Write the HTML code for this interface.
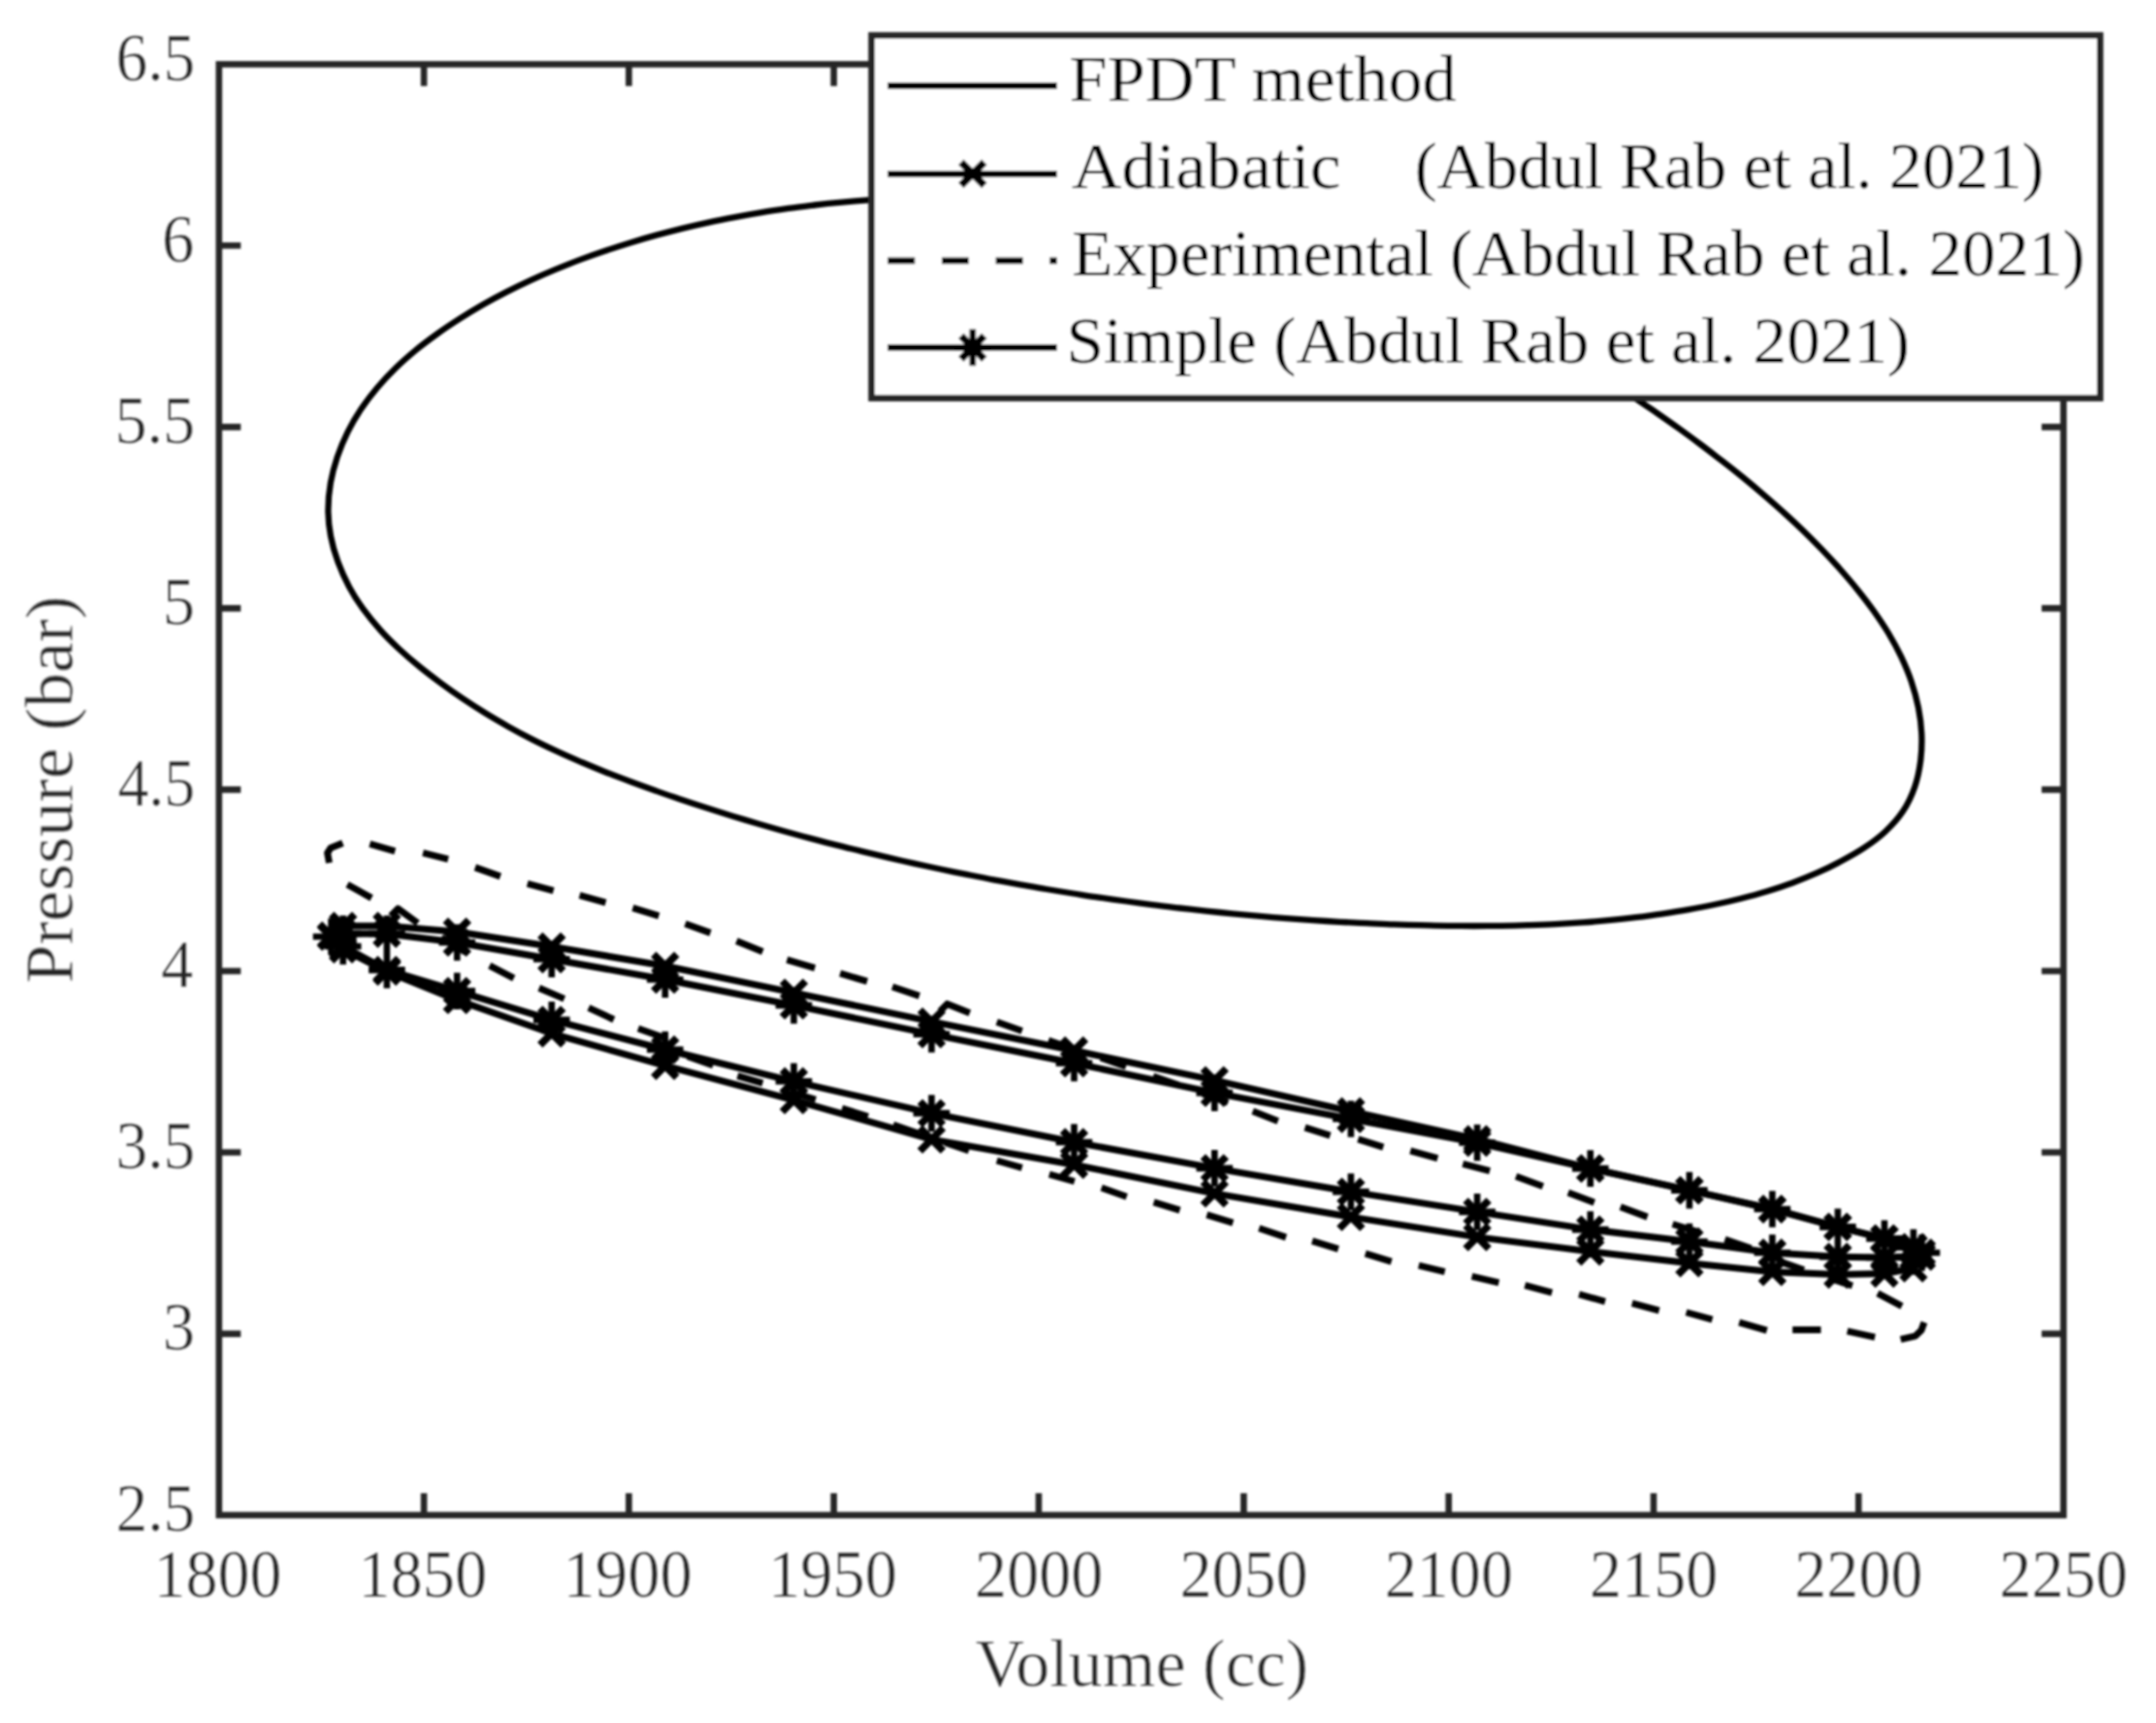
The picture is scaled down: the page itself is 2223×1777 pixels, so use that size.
<!DOCTYPE html>
<html lang="en"><head><meta charset="utf-8"><title>P-V diagram</title>
<style>html,body{margin:0;padding:0;background:#fff;overflow:hidden}svg{display:block}text{font-family:"Liberation Serif",serif;fill:#262626}text.a{stroke:#fff;stroke-width:0.5px}text.l{fill:#000}</style>
</head><body>
<svg width="2223" height="1777" viewBox="0 0 2223 1777">
<rect width="2223" height="1777" fill="#fff"/>
<defs><filter id="soft" x="0" y="0" width="2223" height="1777" filterUnits="userSpaceOnUse"><feGaussianBlur stdDeviation="0.90"/></filter></defs>
<g filter="url(#soft)">
<g fill="none" stroke="#000" stroke-width="6.3" stroke-linejoin="round">
<path d="M894.9 206.4 C885.7 207.1 877.0 207.8 867.8 208.6 C858.6 209.4 848.9 210.4 839.8 211.5 C830.6 212.6 822.0 213.6 812.9 214.9 C803.8 216.2 794.2 217.6 785.1 219.1 C776.0 220.6 767.5 222.1 758.4 223.8 C749.3 225.5 739.9 227.3 730.8 229.3 C721.6 231.3 712.4 233.4 703.5 235.6 C694.6 237.8 686.1 240.0 677.2 242.4 C668.3 244.8 659.1 247.5 650.3 250.2 C641.5 252.9 633.2 255.6 624.5 258.5 C615.8 261.4 606.6 264.7 598.0 267.9 C589.4 271.1 581.3 274.4 572.8 277.9 C564.3 281.4 555.5 285.2 547.0 289.1 C538.5 293.0 529.9 297.2 521.7 301.4 C513.5 305.6 505.8 309.7 497.8 314.3 C489.8 318.9 481.5 323.9 473.7 328.9 C465.9 333.9 458.6 338.7 451.1 344.1 C443.6 349.5 435.8 355.2 428.7 361.1 C421.6 367.0 414.9 372.8 408.3 379.2 C401.7 385.6 395.1 392.6 389.1 399.7 C383.1 406.8 377.3 414.4 372.2 422.0 C367.1 429.6 362.7 437.1 358.6 445.3 C354.5 453.5 350.8 462.5 347.8 471.2 C344.9 479.9 342.5 488.6 340.9 497.7 C339.3 506.8 338.4 516.8 338.4 526.0 C338.4 535.2 339.3 543.8 341.0 552.8 C342.7 561.8 345.3 571.0 348.5 579.7 C351.7 588.4 355.7 597.1 360.0 605.2 C364.3 613.3 369.1 620.7 374.5 628.1 C379.9 635.5 386.1 643.0 392.2 649.9 C398.3 656.8 404.6 662.9 411.4 669.2 C418.2 675.5 425.6 681.9 432.8 687.8 C440.0 693.7 447.1 699.0 454.5 704.5 C461.9 710.0 469.7 715.5 477.4 720.7 C485.1 725.9 493.1 731.0 500.9 735.8 C508.7 740.6 516.2 744.9 524.2 749.4 C532.2 753.9 540.7 758.4 548.9 762.6 C557.1 766.8 564.9 770.5 573.3 774.4 C581.6 778.3 590.5 782.2 599.0 785.8 C607.5 789.4 615.5 792.8 624.1 796.2 C632.7 799.6 641.7 803.0 650.5 806.3 C659.3 809.6 668.3 812.8 677.0 815.9 C685.7 819.0 694.0 821.8 702.7 824.8 C711.5 827.8 720.7 830.8 729.5 833.6 C738.3 836.4 746.6 839.0 755.4 841.7 C764.2 844.4 773.5 847.1 782.3 849.7 C791.1 852.3 799.5 854.7 808.4 857.2 C817.3 859.7 826.5 862.2 835.6 864.6 C844.7 867.0 853.8 869.4 862.7 871.6 C871.6 873.9 880.2 875.9 889.1 878.1 C898.0 880.3 907.4 882.5 916.4 884.6 C925.4 886.7 933.9 888.6 942.9 890.6 C951.9 892.6 961.3 894.6 970.3 896.5 C979.3 898.4 987.9 900.1 996.9 901.9 C1005.9 903.7 1015.3 905.6 1024.5 907.3 C1033.7 909.0 1043.0 910.7 1052.1 912.3 C1061.1 913.9 1069.7 915.5 1078.8 917.0 C1087.9 918.5 1097.5 920.1 1106.6 921.5 C1115.7 922.9 1124.3 924.3 1133.4 925.6 C1142.5 926.9 1152.1 928.2 1161.2 929.5 C1170.3 930.8 1179.0 931.9 1188.1 933.1 C1197.2 934.3 1206.7 935.4 1216.0 936.5 C1225.3 937.6 1234.8 938.6 1244.0 939.6 C1253.2 940.6 1261.8 941.4 1271.0 942.3 C1280.2 943.2 1289.8 944.1 1299.0 944.9 C1308.2 945.7 1316.8 946.4 1326.0 947.1 C1335.2 947.8 1344.9 948.5 1354.1 949.1 C1363.3 949.7 1372.0 950.3 1381.2 950.8 C1390.4 951.3 1399.9 951.8 1409.3 952.2 C1418.7 952.6 1428.2 953.1 1437.4 953.4 C1446.6 953.7 1455.4 954.0 1464.6 954.2 C1473.8 954.4 1483.5 954.7 1492.7 954.8 C1501.9 954.9 1510.7 955.0 1519.9 955.0 C1529.1 955.0 1538.8 954.9 1548.0 954.8 C1557.2 954.7 1566.0 954.5 1575.2 954.2 C1584.4 953.9 1593.9 953.6 1603.2 953.1 C1612.5 952.6 1622.1 952.0 1631.3 951.4 C1640.5 950.8 1649.1 950.1 1658.3 949.2 C1667.5 948.3 1677.1 947.3 1686.2 946.2 C1695.3 945.1 1703.9 944.0 1713.0 942.6 C1722.1 941.2 1731.6 939.7 1740.7 938.1 C1749.8 936.5 1758.4 934.9 1767.4 933.0 C1776.4 931.1 1785.7 929.0 1794.8 926.7 C1803.9 924.4 1813.2 921.9 1822.0 919.2 C1830.8 916.5 1839.1 913.9 1847.7 910.7 C1856.3 907.5 1865.3 903.9 1873.7 900.2 C1882.1 896.5 1890.0 892.6 1898.1 888.3 C1906.2 884.0 1914.8 879.3 1922.4 874.2 C1930.0 869.1 1937.2 863.9 1943.8 857.7 C1950.4 851.5 1956.9 844.5 1962.0 836.8 C1967.1 829.1 1971.2 820.4 1974.2 811.7 C1977.2 803.1 1979.0 794.1 1980.2 784.9 C1981.4 775.7 1981.7 765.9 1981.3 756.7 C1980.9 747.5 1979.8 738.8 1978.0 729.8 C1976.2 720.8 1973.6 711.5 1970.7 702.8 C1967.8 694.1 1964.3 686.0 1960.4 677.7 C1956.5 669.4 1951.9 661.0 1947.1 653.0 C1942.3 645.0 1936.8 637.0 1931.5 629.5 C1926.2 622.0 1920.8 615.1 1915.0 607.9 C1909.2 600.7 1902.9 593.4 1896.8 586.5 C1890.7 579.6 1884.8 573.2 1878.4 566.6 C1872.0 560.0 1865.2 553.1 1858.6 546.7 C1852.0 540.3 1845.7 534.4 1838.9 528.3 C1832.1 522.1 1825.0 515.9 1817.9 509.8 C1810.8 503.7 1803.5 497.6 1796.4 491.8 C1789.3 486.0 1782.5 480.6 1775.2 475.0 C1767.9 469.4 1760.2 463.4 1752.8 457.9 C1745.4 452.4 1738.4 447.2 1730.9 441.8 C1723.4 436.4 1715.5 430.9 1707.9 425.6 C1700.3 420.4 1693.1 415.4 1685.4 410.3 C1677.7 405.2 1669.7 399.9 1661.8 394.9 C1653.9 389.8 1645.7 384.8 1637.8 380.0 C1629.9 375.2 1622.4 370.7 1614.4 366.1 C1606.4 361.5 1598.0 356.6 1589.9 352.2 C1581.8 347.8 1574.1 343.7 1565.9 339.4 C1557.7 335.1 1549.2 330.7 1540.9 326.6 C1532.7 322.5 1524.8 318.8 1516.4 314.9 C1508.0 311.0 1499.3 307.1 1490.7 303.4 C1482.1 299.7 1473.4 296.0 1464.9 292.5 C1456.4 289.0 1448.2 285.9 1439.6 282.6 C1431.0 279.3 1422.0 276.0 1413.3 272.9 C1404.6 269.8 1396.3 267.0 1387.6 264.2 C1378.9 261.4 1369.7 258.4 1360.9 255.8 C1352.1 253.2 1343.7 250.7 1334.8 248.3 C1325.9 245.9 1316.8 243.5 1307.7 241.2 C1298.6 238.9 1289.4 236.8 1280.4 234.7 C1271.4 232.6 1262.9 230.8 1253.9 228.9 C1244.9 227.1 1235.3 225.2 1226.3 223.6 C1217.2 222.0 1208.7 220.5 1199.6 219.1 C1190.5 217.7 1180.9 216.2 1171.8 214.9 C1162.7 213.6 1154.1 212.6 1144.9 211.5 C1135.8 210.4 1126.2 209.5 1116.9 208.6 C1107.6 207.7 1098.1 207.0 1088.9 206.3 C1079.7 205.6 1071.0 205.1 1061.8 204.6 C1052.6 204.1 1042.8 203.8 1033.6 203.5 C1024.4 203.2 1015.7 203.0 1006.5 202.9 C997.3 202.8 987.5 202.8 978.3 202.9 C969.1 203.0 960.3 203.2 951.1 203.5 C941.9 203.8 932.4 204.1 923.0 204.6 C913.6 205.1 904.1 205.7 894.9 206.4Z"/>
<path stroke-width="7.0" d="M339.5 889.9 L337.6 879.7 L341.0 874.5 L353.4 869.5 M381.3 870.4 L407.3 877.9 M436.1 879.7 L462.1 886.2 M489.9 894.6 L515.9 903.9 M543.8 911.3 L570.7 918.7 M597.6 923.4 L624.5 930.8 M652.4 936.4 L679.3 944.7 M706.5 952.8 L732.5 962.1 M759.4 970.4 L786.4 981.6 M811.4 989.9 L840.2 998.3 M866.2 1003.9 L894.1 1012.2 M920.1 1017.8 L947.9 1027.1 M969.3 1042.9 L976.7 1035.4 L999.9 1044.7 M1027.8 1054.0 L1053.8 1063.3 M1081.0 1073.0 L1107.0 1082.0 M1135.0 1091.0 L1161.0 1100.0 M1189.0 1110.0 L1215.0 1119.0 M1240.0 1128.0 L1266.0 1137.0 M1291.7 1146.1 L1317.7 1156.3 M1345.5 1162.8 L1371.5 1171.1 M1400.3 1174.8 L1426.3 1183.2 M1454.2 1186.9 L1482.3 1194.7 M1508.3 1200.3 L1536.1 1207.7 M1563.1 1213.3 L1590.9 1223.5 M1616.9 1230.0 L1643.8 1240.2 M1670.8 1244.8 L1698.6 1255.1 M1724.6 1262.5 L1751.6 1270.8 M1778.5 1278.3 L1805.4 1287.6 M1833.0 1300.4 L1860.0 1309.8 M1885.0 1318.0 L1910.0 1326.0 M1936.0 1333.9 L1961.0 1347.1 M1984.0 1363.8 L1981.0 1372.0 L1975.0 1377.8 L1959.7 1381.3 M1933.2 1379.2 L1904.7 1372.9 M1877.5 1371.5 L1848.2 1371.5 M1821.8 1372.2 L1793.2 1363.8 M1765.5 1360.9 L1738.6 1353.5 M1710.7 1351.6 L1682.8 1344.2 M1655.0 1342.3 L1628.1 1334.9 M1600.2 1333.1 L1572.3 1325.6 M1545.4 1322.8 L1517.6 1316.3 M1489.7 1311.7 L1462.8 1305.2 M1434.7 1301.1 L1407.8 1292.8 M1379.9 1288.1 L1353.0 1279.8 M1326.0 1276.1 L1298.2 1266.8 M1271.3 1261.2 L1244.3 1252.8 M1216.5 1248.2 L1189.6 1239.8 M1161.7 1234.3 L1135.7 1225.0 M1107.9 1218.5 L1081.9 1211.1 M1053.8 1204.4 L1027.8 1197.0 M999.0 1186.8 L974.8 1178.4 M947.0 1169.0 L921.0 1160.0 M895.0 1151.5 L868.1 1143.1 M841.0 1134.0 L814.0 1126.0 M786.4 1117.1 L760.4 1109.7 M735.3 1098.6 L709.0 1089.5 M684.0 1070.0 L658.0 1060.8 M632.9 1051.5 L606.9 1039.4 M581.8 1030.1 L555.8 1019.0 M529.8 1008.8 L504.8 995.8 M480.0 982.0 L455.0 967.0 M430.7 952.0 L410.3 937.1 L402.9 944.6 M383.1 926.1 L358.1 912.2" stroke-linejoin="round"/>
<path stroke-width="7.0" d="M341.5 965.0 L353.7 955.0 L398.9 955.0 L471.3 961.0 L568.8 976.3 L685.8 996.3 L818.5 1023.9 L960.5 1053.6 L1107.5 1083.5 L1252.3 1114.1 L1392.9 1146.2 L1523.1 1175.0 L1639.8 1205.1 L1741.9 1227.6 L1827.4 1247.0 L1894.9 1265.4 L1943.0 1277.4 L1972.9 1286.5 L1981.5 1296.0 L1972.9 1308.0 L1943.0 1313.5 L1894.9 1314.5 L1827.4 1311.7 L1741.9 1302.8 L1639.8 1290.7 L1523.1 1275.9 L1392.9 1255.1 L1252.3 1230.9 L1107.5 1201.2 L960.5 1175.1 L818.5 1134.6 L685.8 1099.2 L568.8 1065.8 L471.3 1031.4 L398.9 1002.0 L353.7 979.0 Z" stroke-linejoin="round"/>
<path stroke-width="7.0" d="M341.5 966.0 L353.7 963.0 L398.9 963.0 L471.3 972.0 L568.8 989.3 L685.8 1010.3 L818.5 1036.9 L960.5 1066.6 L1107.5 1096.5 L1252.3 1127.1 L1392.9 1154.0 L1523.1 1178.5 L1639.8 1205.1 L1741.9 1227.6 L1827.4 1247.0 L1894.9 1265.4 L1943.0 1277.4 L1972.9 1286.5 L1981.5 1292.0 L1972.9 1296.0 L1943.0 1297.0 L1894.9 1296.3 L1827.4 1292.0 L1741.9 1280.5 L1639.8 1268.1 L1523.1 1249.9 L1392.9 1229.1 L1252.3 1204.9 L1107.5 1178.0 L960.5 1148.1 L818.5 1115.3 L685.8 1082.5 L568.8 1051.9 L471.3 1022.1 L398.9 1000.4 L353.7 976.0 Z" stroke-linejoin="round"/>
</g>
<g fill="none" stroke="#000" stroke-width="7.6">
<path d="M329.5 953.0 L353.5 977.0 M329.5 977.0 L353.5 953.0 M341.7 943.0 L365.7 967.0 M341.7 967.0 L365.7 943.0 M386.9 943.0 L410.9 967.0 M386.9 967.0 L410.9 943.0 M459.3 949.0 L483.3 973.0 M459.3 973.0 L483.3 949.0 M556.8 964.3 L580.8 988.3 M556.8 988.3 L580.8 964.3 M673.8 984.3 L697.8 1008.3 M673.8 1008.3 L697.8 984.3 M806.5 1011.9 L830.5 1035.9 M806.5 1035.9 L830.5 1011.9 M948.5 1041.6 L972.5 1065.6 M948.5 1065.6 L972.5 1041.6 M1095.5 1071.5 L1119.5 1095.5 M1095.5 1095.5 L1119.5 1071.5 M1240.3 1102.1 L1264.3 1126.1 M1240.3 1126.1 L1264.3 1102.1 M1380.9 1134.2 L1404.9 1158.2 M1380.9 1158.2 L1404.9 1134.2 M1511.1 1163.0 L1535.1 1187.0 M1511.1 1187.0 L1535.1 1163.0 M1627.8 1193.1 L1651.8 1217.1 M1627.8 1217.1 L1651.8 1193.1 M1729.9 1215.6 L1753.9 1239.6 M1729.9 1239.6 L1753.9 1215.6 M1815.4 1235.0 L1839.4 1259.0 M1815.4 1259.0 L1839.4 1235.0 M1882.9 1253.4 L1906.9 1277.4 M1882.9 1277.4 L1906.9 1253.4 M1931.0 1265.4 L1955.0 1289.4 M1931.0 1289.4 L1955.0 1265.4 M1960.9 1274.5 L1984.9 1298.5 M1960.9 1298.5 L1984.9 1274.5 M1969.5 1284.0 L1993.5 1308.0 M1969.5 1308.0 L1993.5 1284.0 M1960.9 1296.0 L1984.9 1320.0 M1960.9 1320.0 L1984.9 1296.0 M1931.0 1301.5 L1955.0 1325.5 M1931.0 1325.5 L1955.0 1301.5 M1882.9 1302.5 L1906.9 1326.5 M1882.9 1326.5 L1906.9 1302.5 M1815.4 1299.7 L1839.4 1323.7 M1815.4 1323.7 L1839.4 1299.7 M1729.9 1290.8 L1753.9 1314.8 M1729.9 1314.8 L1753.9 1290.8 M1627.8 1278.7 L1651.8 1302.7 M1627.8 1302.7 L1651.8 1278.7 M1511.1 1263.9 L1535.1 1287.9 M1511.1 1287.9 L1535.1 1263.9 M1380.9 1243.1 L1404.9 1267.1 M1380.9 1267.1 L1404.9 1243.1 M1240.3 1218.9 L1264.3 1242.9 M1240.3 1242.9 L1264.3 1218.9 M1095.5 1189.2 L1119.5 1213.2 M1095.5 1213.2 L1119.5 1189.2 M948.5 1163.1 L972.5 1187.1 M948.5 1187.1 L972.5 1163.1 M806.5 1122.6 L830.5 1146.6 M806.5 1146.6 L830.5 1122.6 M673.8 1087.2 L697.8 1111.2 M673.8 1111.2 L697.8 1087.2 M556.8 1053.8 L580.8 1077.8 M556.8 1077.8 L580.8 1053.8 M459.3 1019.4 L483.3 1043.4 M459.3 1043.4 L483.3 1019.4 M386.9 990.0 L410.9 1014.0 M386.9 1014.0 L410.9 990.0 M341.7 967.0 L365.7 991.0 M341.7 991.0 L365.7 967.0"/>
<path d="M329.5 954.0 L353.5 978.0 M329.5 978.0 L353.5 954.0 M341.7 951.0 L365.7 975.0 M341.7 975.0 L365.7 951.0 M386.9 951.0 L410.9 975.0 M386.9 975.0 L410.9 951.0 M459.3 960.0 L483.3 984.0 M459.3 984.0 L483.3 960.0 M556.8 977.3 L580.8 1001.3 M556.8 1001.3 L580.8 977.3 M673.8 998.3 L697.8 1022.3 M673.8 1022.3 L697.8 998.3 M806.5 1024.9 L830.5 1048.9 M806.5 1048.9 L830.5 1024.9 M948.5 1054.6 L972.5 1078.6 M948.5 1078.6 L972.5 1054.6 M1095.5 1084.5 L1119.5 1108.5 M1095.5 1108.5 L1119.5 1084.5 M1240.3 1115.1 L1264.3 1139.1 M1240.3 1139.1 L1264.3 1115.1 M1380.9 1142.0 L1404.9 1166.0 M1380.9 1166.0 L1404.9 1142.0 M1511.1 1166.5 L1535.1 1190.5 M1511.1 1190.5 L1535.1 1166.5 M1627.8 1193.1 L1651.8 1217.1 M1627.8 1217.1 L1651.8 1193.1 M1729.9 1215.6 L1753.9 1239.6 M1729.9 1239.6 L1753.9 1215.6 M1815.4 1235.0 L1839.4 1259.0 M1815.4 1259.0 L1839.4 1235.0 M1882.9 1253.4 L1906.9 1277.4 M1882.9 1277.4 L1906.9 1253.4 M1931.0 1265.4 L1955.0 1289.4 M1931.0 1289.4 L1955.0 1265.4 M1960.9 1274.5 L1984.9 1298.5 M1960.9 1298.5 L1984.9 1274.5 M1969.5 1280.0 L1993.5 1304.0 M1969.5 1304.0 L1993.5 1280.0 M1960.9 1284.0 L1984.9 1308.0 M1960.9 1308.0 L1984.9 1284.0 M1931.0 1285.0 L1955.0 1309.0 M1931.0 1309.0 L1955.0 1285.0 M1882.9 1284.3 L1906.9 1308.3 M1882.9 1308.3 L1906.9 1284.3 M1815.4 1280.0 L1839.4 1304.0 M1815.4 1304.0 L1839.4 1280.0 M1729.9 1268.5 L1753.9 1292.5 M1729.9 1292.5 L1753.9 1268.5 M1627.8 1256.1 L1651.8 1280.1 M1627.8 1280.1 L1651.8 1256.1 M1511.1 1237.9 L1535.1 1261.9 M1511.1 1261.9 L1535.1 1237.9 M1380.9 1217.1 L1404.9 1241.1 M1380.9 1241.1 L1404.9 1217.1 M1240.3 1192.9 L1264.3 1216.9 M1240.3 1216.9 L1264.3 1192.9 M1095.5 1166.0 L1119.5 1190.0 M1095.5 1190.0 L1119.5 1166.0 M948.5 1136.1 L972.5 1160.1 M948.5 1160.1 L972.5 1136.1 M806.5 1103.3 L830.5 1127.3 M806.5 1127.3 L830.5 1103.3 M673.8 1070.5 L697.8 1094.5 M673.8 1094.5 L697.8 1070.5 M556.8 1039.9 L580.8 1063.9 M556.8 1063.9 L580.8 1039.9 M459.3 1010.1 L483.3 1034.1 M459.3 1034.1 L483.3 1010.1 M386.9 988.4 L410.9 1012.4 M386.9 1012.4 L410.9 988.4 M341.7 964.0 L365.7 988.0 M341.7 988.0 L365.7 964.0"/>
<path stroke-width="6.6" d="M322.7 966.0 L360.3 966.0 M341.5 947.2 L341.5 984.8 M334.9 963.0 L372.5 963.0 M353.7 944.2 L353.7 981.8 M380.1 963.0 L417.7 963.0 M398.9 944.2 L398.9 981.8 M452.5 972.0 L490.1 972.0 M471.3 953.2 L471.3 990.8 M550.0 989.3 L587.6 989.3 M568.8 970.5 L568.8 1008.1 M667.0 1010.3 L704.6 1010.3 M685.8 991.5 L685.8 1029.1 M799.7 1036.9 L837.3 1036.9 M818.5 1018.1 L818.5 1055.7 M941.7 1066.6 L979.3 1066.6 M960.5 1047.8 L960.5 1085.4 M1088.7 1096.5 L1126.3 1096.5 M1107.5 1077.7 L1107.5 1115.3 M1233.5 1127.1 L1271.1 1127.1 M1252.3 1108.3 L1252.3 1145.9 M1374.1 1154.0 L1411.7 1154.0 M1392.9 1135.2 L1392.9 1172.8 M1504.3 1178.5 L1541.9 1178.5 M1523.1 1159.7 L1523.1 1197.3 M1621.0 1205.1 L1658.6 1205.1 M1639.8 1186.3 L1639.8 1223.9 M1723.1 1227.6 L1760.7 1227.6 M1741.9 1208.8 L1741.9 1246.4 M1808.6 1247.0 L1846.2 1247.0 M1827.4 1228.2 L1827.4 1265.8 M1876.1 1265.4 L1913.7 1265.4 M1894.9 1246.6 L1894.9 1284.2 M1924.2 1277.4 L1961.8 1277.4 M1943.0 1258.6 L1943.0 1296.2 M1954.1 1286.5 L1991.7 1286.5 M1972.9 1267.7 L1972.9 1305.3 M1962.7 1292.0 L2000.3 1292.0 M1981.5 1273.2 L1981.5 1310.8 M1954.1 1296.0 L1991.7 1296.0 M1972.9 1277.2 L1972.9 1314.8 M1924.2 1297.0 L1961.8 1297.0 M1943.0 1278.2 L1943.0 1315.8 M1876.1 1296.3 L1913.7 1296.3 M1894.9 1277.5 L1894.9 1315.1 M1808.6 1292.0 L1846.2 1292.0 M1827.4 1273.2 L1827.4 1310.8 M1723.1 1280.5 L1760.7 1280.5 M1741.9 1261.7 L1741.9 1299.3 M1621.0 1268.1 L1658.6 1268.1 M1639.8 1249.3 L1639.8 1286.9 M1504.3 1249.9 L1541.9 1249.9 M1523.1 1231.1 L1523.1 1268.7 M1374.1 1229.1 L1411.7 1229.1 M1392.9 1210.3 L1392.9 1247.9 M1233.5 1204.9 L1271.1 1204.9 M1252.3 1186.1 L1252.3 1223.7 M1088.7 1178.0 L1126.3 1178.0 M1107.5 1159.2 L1107.5 1196.8 M941.7 1148.1 L979.3 1148.1 M960.5 1129.3 L960.5 1166.9 M799.7 1115.3 L837.3 1115.3 M818.5 1096.5 L818.5 1134.1 M667.0 1082.5 L704.6 1082.5 M685.8 1063.7 L685.8 1101.3 M550.0 1051.9 L587.6 1051.9 M568.8 1033.1 L568.8 1070.7 M452.5 1022.1 L490.1 1022.1 M471.3 1003.3 L471.3 1040.9 M380.1 1000.4 L417.7 1000.4 M398.9 981.6 L398.9 1019.2 M334.9 976.0 L372.5 976.0 M353.7 957.2 L353.7 994.8"/>
</g>
<g fill="none" stroke="#262626" stroke-width="6.6">
<rect x="225.8" y="66.3" width="1901.8" height="1496.3"/>
<path d="M437.1 1562.6 V1540.1 M437.1 66.3 V88.8 M648.4 1562.6 V1540.1 M648.4 66.3 V88.8 M859.7 1562.6 V1540.1 M859.7 66.3 V88.8 M1071.0 1562.6 V1540.1 M1071.0 66.3 V88.8 M1282.4 1562.6 V1540.1 M1282.4 66.3 V88.8 M1493.7 1562.6 V1540.1 M1493.7 66.3 V88.8 M1705.0 1562.6 V1540.1 M1705.0 66.3 V88.8 M1916.3 1562.6 V1540.1 M1916.3 66.3 V88.8 M225.8 1375.6 H248.3 M2127.6 1375.6 H2105.1 M225.8 1188.5 H248.3 M2127.6 1188.5 H2105.1 M225.8 1001.5 H248.3 M2127.6 1001.5 H2105.1 M225.8 814.4 H248.3 M2127.6 814.4 H2105.1 M225.8 627.4 H248.3 M2127.6 627.4 H2105.1 M225.8 440.4 H248.3 M2127.6 440.4 H2105.1 M225.8 253.3 H248.3 M2127.6 253.3 H2105.1"/>
</g>
<rect x="898.6" y="36.5" width="1266.8" height="374.1" fill="#fff" stroke="#262626" stroke-width="6.6"/>
<g fill="none" stroke="#000" stroke-width="6.8">
<path d="M915.3 88.4 H1089.8 M915.3 179.3 H1089.8 M915.3 358.4 H1089.8"/>
<path d="M915.3 268.8 H1089.8" stroke-dasharray="28 27.7"/>
</g>
<g fill="none" stroke="#000" stroke-width="7.6">
<path d="M990.9 167.3 L1014.9 191.3 M990.9 191.3 L1014.9 167.3"/>
<path d="M990.9 346.4 L1014.9 370.4 M990.9 370.4 L1014.9 346.4"/>
<path stroke-width="6.6" d="M984.1 358.4 L1021.7 358.4 M1002.9 339.6 L1002.9 377.2"/>
</g>
<text x="158.6" y="1647.3" font-size="69.5" textLength="131.9" lengthAdjust="spacingAndGlyphs" class="a">1800</text>
<text x="369.3" y="1647.3" font-size="69.5" textLength="133.1" lengthAdjust="spacingAndGlyphs" class="a">1850</text>
<text x="580.6" y="1647.3" font-size="69.5" textLength="133.1" lengthAdjust="spacingAndGlyphs" class="a">1900</text>
<text x="791.9" y="1647.3" font-size="69.5" textLength="133.1" lengthAdjust="spacingAndGlyphs" class="a">1950</text>
<text x="1005.1" y="1647.3" font-size="69.5" textLength="132.3" lengthAdjust="spacingAndGlyphs" class="a">2000</text>
<text x="1216.4" y="1647.3" font-size="69.5" textLength="132.3" lengthAdjust="spacingAndGlyphs" class="a">2050</text>
<text x="1427.7" y="1647.3" font-size="69.5" textLength="132.3" lengthAdjust="spacingAndGlyphs" class="a">2100</text>
<text x="1639.0" y="1647.3" font-size="69.5" textLength="132.3" lengthAdjust="spacingAndGlyphs" class="a">2150</text>
<text x="1850.3" y="1647.3" font-size="69.5" textLength="132.3" lengthAdjust="spacingAndGlyphs" class="a">2200</text>
<text x="2061.6" y="1647.3" font-size="69.5" textLength="132.3" lengthAdjust="spacingAndGlyphs" class="a">2250</text>
<text x="119.5" y="1578.9" font-size="69.5" textLength="81.6" lengthAdjust="spacingAndGlyphs" class="a">2.5</text>
<text x="167.8" y="1391.9" font-size="69.5" textLength="33.2" lengthAdjust="spacingAndGlyphs" class="a">3</text>
<text x="119.5" y="1204.8" font-size="69.5" textLength="81.6" lengthAdjust="spacingAndGlyphs" class="a">3.5</text>
<text x="165.9" y="1017.8" font-size="69.5" textLength="33.2" lengthAdjust="spacingAndGlyphs" class="a">4</text>
<text x="121.4" y="830.7" font-size="69.5" textLength="79.7" lengthAdjust="spacingAndGlyphs" class="a">4.5</text>
<text x="167.8" y="643.7" font-size="69.5" textLength="33.2" lengthAdjust="spacingAndGlyphs" class="a">5</text>
<text x="118.5" y="456.7" font-size="69.5" textLength="82.6" lengthAdjust="spacingAndGlyphs" class="a">5.5</text>
<text x="166.9" y="269.6" font-size="69.5" textLength="33.2" lengthAdjust="spacingAndGlyphs" class="a">6</text>
<text x="119.5" y="82.6" font-size="69.5" textLength="81.6" lengthAdjust="spacingAndGlyphs" class="a">6.5</text>
<text x="1005.5" y="1739.0" font-size="69.5" textLength="343.6" lengthAdjust="spacingAndGlyphs" class="a">Volume (cc)</text>
<text x="74.6" y="1014.1" font-size="69.5" textLength="399.6" lengthAdjust="spacingAndGlyphs" transform="rotate(-90 74.6 1014.1)" class="a">Pressure (bar)</text>
<text x="1102.6" y="104.3" font-size="68.0" textLength="399.2" lengthAdjust="spacingAndGlyphs" class="l">FPDT method</text>
<text x="1105.0" y="194.4" font-size="68.0" textLength="277.5" lengthAdjust="spacingAndGlyphs" class="l">Adiabatic</text>
<text x="1458.8" y="194.4" font-size="68.0" textLength="648.7" lengthAdjust="spacingAndGlyphs" class="l">(Abdul Rab et al. 2021)</text>
<text x="1105.3" y="283.6" font-size="68.0" textLength="1044.4" lengthAdjust="spacingAndGlyphs" class="l">Experimental (Abdul Rab et al. 2021)</text>
<text x="1099.6" y="373.7" font-size="68.0" textLength="869.6" lengthAdjust="spacingAndGlyphs" class="l">Simple (Abdul Rab et al. 2021)</text>
</g>
</svg>
</body></html>
